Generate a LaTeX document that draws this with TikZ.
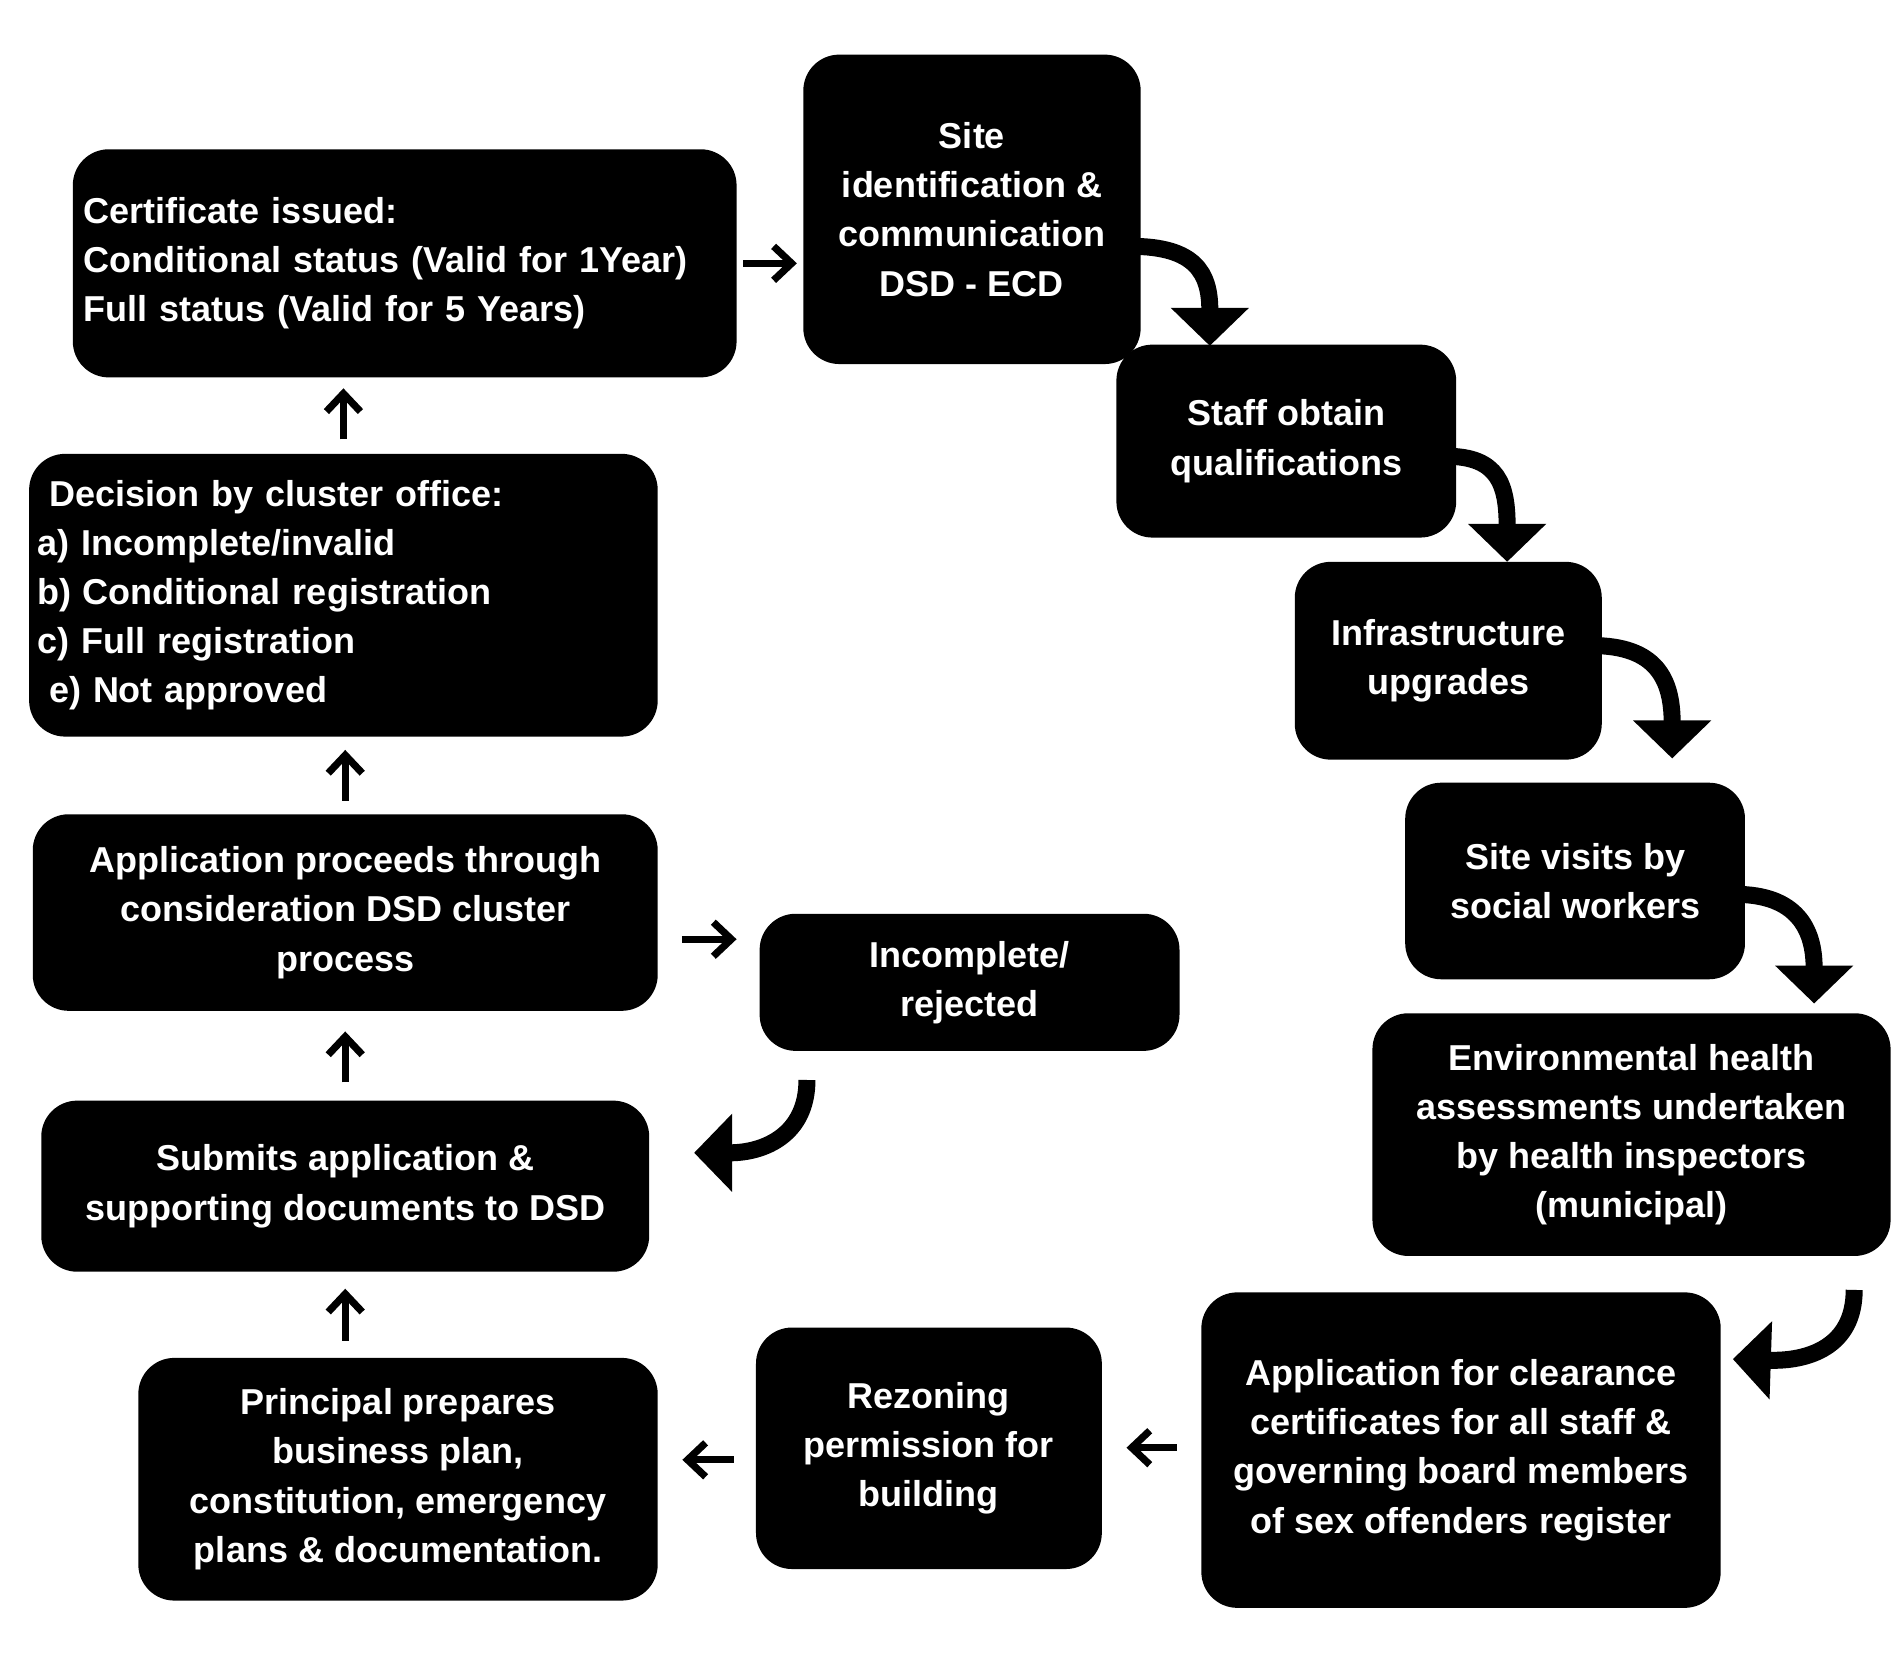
\documentclass[tikz,border=0pt]{standalone}
\usepackage{fontspec}
\setmainfont{Liberation Sans}
\usetikzlibrary{arrows.meta}
\def\ux{0.6067pt}
\begin{document}
\begin{tikzpicture}[x=0.6067pt,y=-0.6067pt,
  box/.style={fill=black,rounded corners=18pt,text=white,align=center,font=\bfseries\fontsize{18}{24.6}\selectfont,inner sep=2pt},
  lbox/.style={box,align=left},
  sa/.style={line width=3.6pt,-{Straight Barb[length=9pt,width=17pt]}},
  ca/.style={line width=8.5pt,-{Triangle[length=19pt,width=38pt]}}]
\useasboundingbox (0,0) rectangle (1560,1383);
\node[lbox,minimum width=547*\ux,minimum height=188*\ux,text width=530*\ux] (cert) at (333.5,217) {Certificate issued:\\Conditional status (Valid for 1Year)\\ Full status (Valid for 5 Years)};
\node[box,minimum width=278*\ux,minimum height=255*\ux] (site) at (801,172.5) {Site\\identification \&\\communication\\DSD - ECD};
\node[box,minimum width=280*\ux,minimum height=159*\ux] (staff) at (1060,363.5) {Staff obtain\\qualifications};
\node[box,minimum width=253*\ux,minimum height=163*\ux] (infra) at (1193.5,544.5) {Infrastructure\\upgrades};
\node[box,minimum width=280*\ux,minimum height=162*\ux] (visit) at (1298,726) {Site visits by\\social workers};
\node[box,minimum width=427*\ux,minimum height=200*\ux] (env) at (1344.5,935) {Environmental health\\assessments undertaken\\by health inspectors\\(municipal)};
\node[box,minimum width=428*\ux,minimum height=260*\ux] (clear) at (1204,1195) {Application for clearance\\certificates for all staff \&\\governing board members\\of sex offenders register};
\node[box,minimum width=285*\ux,minimum height=199*\ux] (rezone) at (765.5,1193.5) {Rezoning\\permission for\\building};
\node[box,minimum width=428*\ux,minimum height=200*\ux] (princ) at (328,1219) {Principal prepares\\business plan,\\constitution, emergency\\plans \& documentation.};
\node[box,minimum width=501*\ux,minimum height=141*\ux] (subm) at (284.5,977.5) {Submits application \&\\supporting documents to DSD};
\node[box,minimum width=515*\ux,minimum height=162*\ux] (proc) at (284.5,752) {Application proceeds through\\consideration DSD cluster\\process};
\node[box,minimum width=346*\ux,minimum height=113*\ux] (inc) at (799,809.5) {Incomplete/\\rejected};
\node[lbox,minimum width=518*\ux,minimum height=233*\ux,text width=505*\ux] (dec) at (283,490.5) {\ Decision by cluster office:\\a) Incomplete/invalid\\b) Conditional registration\\c) Full registration\\\ e) Not approved};
% straight arrows
\draw[sa] (dec.north |- 0,362) -- (dec.north |- 0,320);
\draw[sa] (proc.north |- 0,660) -- (proc.north |- 0,618);
\draw[sa] (subm.north |- 0,892) -- (subm.north |- 0,850);
\draw[sa] (subm.north |- 0,1105) -- (subm.north |- 0,1062);
\draw[sa] ([xshift=5*\ux]cert.east) -- ([xshift=-5*\ux]site.west |- cert.east);
\draw[sa] (562,774) -- (607,774);
\draw[sa] ([xshift=-18*\ux]rezone.west |- 0,1203) -- ([xshift=20*\ux]princ.east |- 0,1203);
\draw[sa] ([xshift=-20*\ux]clear.west |- 0,1193) -- ([xshift=20*\ux]rezone.east |- 0,1193);
% curved arrows
\draw[ca] (932,203) .. controls (985,203) and (997,225) .. (997,285);
\draw[ca] (1192,376) .. controls (1235,376) and (1242,400) .. (1242,463);
\draw[ca] (1312,532) .. controls (1365,532) and (1378,560) .. (1378,625);
\draw[ca] (1430,737) .. controls (1480,737) and (1495,765) .. (1495,827);
\draw[ca] (1528,1063) .. controls (1528,1110) and (1490,1122) .. (1428,1120);
\draw[ca] (665,890) .. controls (665,935) and (630,950) .. (572,950);
\end{tikzpicture}
\end{document}
